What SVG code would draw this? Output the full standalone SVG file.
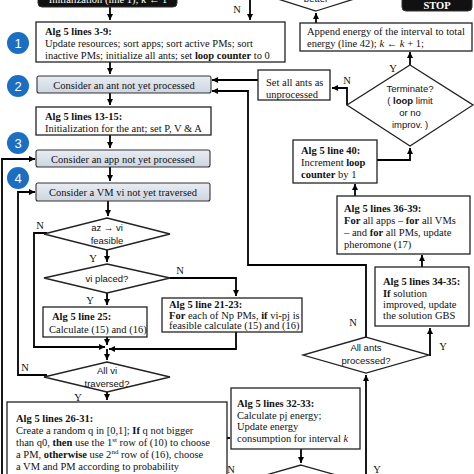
<svg xmlns="http://www.w3.org/2000/svg" width="474" height="474" viewBox="0 0 474 474">
<defs>
<marker id="ar" markerUnits="userSpaceOnUse" markerWidth="7" markerHeight="7" refX="6" refY="3" orient="auto"><path d="M0,0 L6,3 L0,6 z" fill="#000"/></marker>
<linearGradient id="gb" x1="0" y1="0" x2="0" y2="1"><stop offset="0" stop-color="#e9edf3"/><stop offset="1" stop-color="#cdd5e0"/></linearGradient>
<style>
.b{fill:#fff;stroke:#222;stroke-width:1.3}
.g{fill:url(#gb);stroke:#333;stroke-width:1.1}
.k{fill:#111;stroke:#333;stroke-width:1}
.d{fill:#fff;stroke:#222;stroke-width:1.3}
.t{font-family:"Liberation Serif",serif;font-size:10.5px;fill:#111}
.s{font-family:"Liberation Sans",sans-serif;font-size:9.5px;fill:#111}
.w{font-family:"Liberation Serif",serif;font-size:10.5px;fill:#fff;font-weight:bold}
.bo{font-weight:bold}
.ln{fill:none;stroke:#000;stroke-width:1.8}
.c{fill:#1b6ec2}
.cn{font-family:"Liberation Sans",sans-serif;font-size:13px;fill:#fff;text-anchor:middle}
.m{text-anchor:middle}
</style>
</defs>
<g id="connectors">
<path class="ln" d="M110,7 V20" marker-end="url(#ar)"/>
<path class="ln" d="M250,0 V20" marker-end="url(#ar)"/>
<path class="ln" d="M110,62 V74" marker-end="url(#ar)"/>
<path class="ln" d="M258,80 H212" marker-end="url(#ar)"/>
<path class="ln" d="M366,337 V265 H248 V91 H212" marker-end="url(#ar)"/>
<path class="ln" d="M110,93 V105" marker-end="url(#ar)"/>
<path class="ln" d="M110,135 V148" marker-end="url(#ar)"/>
<path class="ln" d="M110,167 V181" marker-end="url(#ar)"/>
<path class="ln" d="M108,201 V216" marker-end="url(#ar)"/>
<path class="ln" d="M2,474 V159 H35" marker-end="url(#ar)"/>
<path class="ln" d="M47,375 H18 V192 H35" marker-end="url(#ar)"/>
<path class="ln" d="M47,233 H34 V347 H105" marker-end="url(#ar)"/>
<path class="ln" d="M107,250 V262" marker-end="url(#ar)"/>
<path class="ln" d="M170,278 H236 V296" marker-end="url(#ar)"/>
<path class="ln" d="M107,293 V305" marker-end="url(#ar)"/>
<path class="ln" d="M107,337 V345" marker-end="url(#ar)"/>
<path class="ln" d="M236,332 V349 H109" marker-end="url(#ar)"/>
<path class="ln" d="M107,349 V360" marker-end="url(#ar)"/>
<path class="ln" d="M107,392 V400" marker-end="url(#ar)"/>
<path class="ln" d="M227,438 H230" marker-end="url(#ar)"/>
<path class="ln" d="M301,449 V463" marker-end="url(#ar)"/>
<path class="ln" d="M366,474 V375" marker-end="url(#ar)"/>
<path class="ln" d="M429,355 H430 V328" marker-end="url(#ar)"/>
<path class="ln" d="M422,267 V255" marker-end="url(#ar)"/>
<path class="ln" d="M355,196 V184" marker-end="url(#ar)"/>
<path class="ln" d="M377,160 H410 V148" marker-end="url(#ar)"/>
<path class="ln" d="M347,105 V88 H332" marker-end="url(#ar)"/>
<path class="ln" d="M410,65 V52" marker-end="url(#ar)"/>
<path class="ln" d="M316,23 V13" marker-end="url(#ar)"/>
</g>
<g id="labels">
<text class="t m" x="237" y="13">N</text>
<text class="t m" x="393" y="72">Y</text>
<text class="t m" x="347" y="84">N</text>
<text class="t m" x="40" y="229">N</text>
<text class="t m" x="93" y="262">Y</text>
<text class="t m" x="180" y="274">N</text>
<text class="t m" x="90" y="304">Y</text>
<text class="t m" x="25" y="371">N</text>
<text class="t m" x="78" y="401">Y</text>
<text class="t m" x="353" y="326">N</text>
<text class="t m" x="443" y="350">Y</text>
<text class="t m" x="377" y="473">Y</text>
<text class="t m" x="231" y="473">N</text>
</g>
<g id="init"><rect class="k" x="38" y="-12" width="139" height="19" rx="4"/><text class="w m" x="108" y="3" style="font-weight:normal">Initialization (line 1); k ← 1</text></g>
<g id="better"><polygon class="d" points="316,11 386,-11 316,-33 246,-11"/><text class="s m" x="316" y="2">better</text></g>
<g id="stop"><rect class="k" x="402" y="-6" width="70" height="17" rx="4"/><text class="w m" x="437" y="9">STOP</text></g>
<g id="c1"><circle class="c" cx="18" cy="43" r="11"/><text class="cn" x="18" y="48">1</text></g>
<g id="c2"><circle class="c" cx="18" cy="86" r="11"/><text class="cn" x="18" y="91">2</text></g>
<g id="c3"><circle class="c" cx="18" cy="143" r="11"/><text class="cn" x="18" y="148">3</text></g>
<g id="c4"><circle class="c" cx="18" cy="178" r="11"/><text class="cn" x="18" y="183">4</text></g>
<g id="box1"><rect class="b" x="36" y="22" width="249" height="40"/>
<text class="t" x="45" y="35"><tspan class="bo">Alg 5 lines 3-9:</tspan></text>
<text class="t" x="45" y="47">Update resources; sort apps; sort active PMs; sort</text>
<text class="t" x="45" y="59">inactive PMs; initialize all ants; set <tspan class="bo">loop counter</tspan> to 0</text></g>
<g id="append"><rect class="b" x="300" y="23" width="172" height="28"/>
<text class="t" x="307" y="35">Append energy of the interval to total</text>
<text class="t" x="307" y="47">energy (line 42); <tspan font-style="italic">k</tspan> ← <tspan font-style="italic">k</tspan> + 1;</text></g>
<g id="ant"><rect class="g" x="37" y="76" width="174" height="17" rx="2"/><text class="t m" x="124" y="89">Consider an ant not yet processed</text></g>
<g id="setants"><rect class="b" x="258" y="70" width="72" height="30"/>
<text class="t" x="266" y="86">Set all ants as</text><text class="t" x="266" y="98">unprocessed</text></g>
<g id="terminate"><polygon class="d" points="410,65 473,105 410,146 347,105"/>
<text class="s m" x="410" y="92">Terminate?</text>
<text class="s m" x="410" y="104">( <tspan class="bo">loop</tspan> limit</text>
<text class="s m" x="410" y="116">or no</text>
<text class="s m" x="410" y="128">improv. )</text></g>
<g id="box1315"><rect class="b" x="36" y="107" width="175" height="28"/>
<text class="t" x="45" y="120"><tspan class="bo">Alg 5 lines 13-15:</tspan></text>
<text class="t" x="45" y="132">Initialization for the ant; set P, V &amp; A</text></g>
<g id="box40"><rect class="b" x="293" y="140" width="84" height="43"/>
<text class="t" x="301" y="154"><tspan class="bo">Alg 5 line 40:</tspan></text>
<text class="t" x="301" y="166">Increment <tspan class="bo">loop</tspan></text>
<text class="t" x="301" y="178"><tspan class="bo">counter</tspan> by 1</text></g>
<g id="app"><rect class="g" x="36" y="150" width="174" height="17" rx="2"/><text class="t m" x="123" y="163">Consider an app not yet processed</text></g>
<g id="vm"><rect class="g" x="36" y="183" width="174" height="18" rx="2"/><text class="t m" x="123" y="196">Consider a VM vi not yet traversed</text></g>
<g id="box3639"><rect class="b" x="337" y="196" width="133" height="58"/>
<text class="t" x="344" y="212"><tspan class="bo">Alg 5 lines 36-39:</tspan></text>
<text class="t" x="344" y="224"><tspan class="bo">For</tspan> all apps – <tspan class="bo">for</tspan> all VMs</text>
<text class="t" x="344" y="236">– and <tspan class="bo">for</tspan> all PMs, update</text>
<text class="t" x="344" y="248">pheromone (17)</text></g>
<g id="feasible"><polygon class="d" points="107,218 170,234 107,250 44,234"/>
<text class="s m" x="107" y="231">az → vi</text><text class="s m" x="107" y="244">feasible</text></g>
<g id="placed"><polygon class="d" points="107,264 170,278 107,293 44,278"/>
<text class="s m" x="107" y="282">vi placed?</text></g>
<g id="box3435"><rect class="b" x="375" y="267" width="94" height="59"/>
<text class="t" x="383" y="285"><tspan class="bo">Alg 5 lines 34-35:</tspan></text>
<text class="t" x="383" y="297"><tspan class="bo">If</tspan> solution</text>
<text class="t" x="383" y="308">improved, update</text>
<text class="t" x="383" y="319">the solution GBS</text></g>
<g id="box2123"><rect class="b" x="162" y="298" width="140" height="34"/>
<text class="t" x="169" y="308"><tspan class="bo">Alg 5 line 21-23:</tspan></text>
<text class="t" x="169" y="318.5"><tspan class="bo">For</tspan> each of Np PMs, <tspan class="bo">if</tspan> vi-pj is</text>
<text class="t" x="169" y="329">feasible calculate (15) and (16)</text></g>
<g id="box25"><rect class="b" x="43" y="307" width="104" height="30"/>
<text class="t" x="52" y="320"><tspan class="bo">Alg 5 line 25:</tspan></text>
<text class="t" x="49" y="333">Calculate (15) and (16)</text></g>
<g id="allvi"><polygon class="d" points="107,362 170,377 107,392 44,377"/>
<text class="s m" x="107" y="374">All vi</text><text class="s m" x="107" y="387">traversed?</text></g>
<g id="allants"><polygon class="d" points="366,337 429,355 366,373 303,355"/>
<text class="s m" x="366" y="351">All ants</text><text class="s m" x="366" y="364">processed?</text></g>
<g id="box3233"><rect class="b" x="231" y="388" width="129" height="61"/>
<text class="t" x="237" y="407"><tspan class="bo">Alg 5 lines 32-33:</tspan></text>
<text class="t" x="237" y="419">Calculate pj energy;</text>
<text class="t" x="237" y="430">Update energy</text>
<text class="t" x="237" y="442">consumption for interval <tspan font-style="italic">k</tspan></text></g>
<g id="box2631"><rect class="b" x="7" y="402" width="220" height="80"/>
<text class="t" x="16" y="422"><tspan class="bo">Alg 5 lines 26-31:</tspan></text>
<text class="t" x="16" y="434">Create a random q in [0,1]; <tspan class="bo">If</tspan> q not bigger</text>
<text class="t" x="16" y="446">than q0, <tspan class="bo">then</tspan> use the 1<tspan font-size="7" dy="-4">st</tspan><tspan dy="4"> row of (10) to choose</tspan></text>
<text class="t" x="16" y="458">a PM, <tspan class="bo">otherwise</tspan> use 2<tspan font-size="7" dy="-4">nd</tspan><tspan dy="4"> row of (16), choose</tspan></text>
<text class="t" x="16" y="470">a VM and PM according to probability</text></g>
<g id="bottomdiamond"><polygon class="d" points="301,465 364,483 301,501 238,483"/></g>
</svg>
